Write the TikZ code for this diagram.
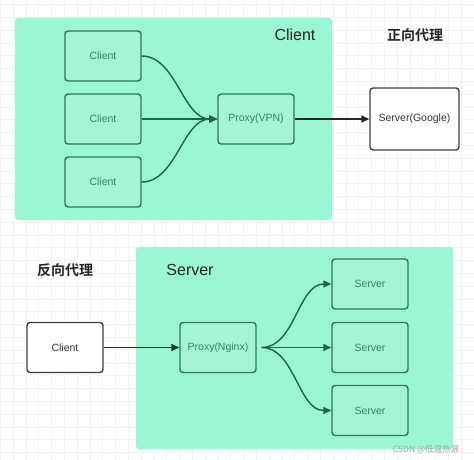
\documentclass[tikz,border=0pt]{standalone}
\usepackage{fontspec}
\setmainfont{Liberation Sans}
\newfontfamily\cjk{Noto Sans CJK SC}[BoldFont={Noto Sans CJK SC Bold}]
\usetikzlibrary{arrows.meta}
\definecolor{mint}{HTML}{9BF7D3}
\definecolor{boxfill}{HTML}{A3F5D6}
\definecolor{dkgreen}{HTML}{2B7A55}
\definecolor{txtgreen}{HTML}{2E8A5F}
\definecolor{arrgreen}{HTML}{1E6445}
\definecolor{gridc}{HTML}{F3F3F3}
\tikzset{
  x=1pt,y=-1pt,
  area/.style={fill=mint,draw=none,rounded corners=3pt},
  gbox/.style={draw=dkgreen,line width=1.4pt,fill=boxfill,rounded corners=3pt,minimum width=76pt,minimum height=50pt,inner sep=0pt,text=txtgreen,font=\fontsize{10.5}{12}\selectfont},
  wbox/.style={draw=black!75,line width=1.4pt,fill=white,rounded corners=3pt,minimum height=50pt,inner sep=0pt,text=black!80,font=\fontsize{10.5}{12}\selectfont},
  conn/.style={draw=arrgreen,line width=1.4pt,-{Triangle[length=8pt,width=7pt]}},
  kconn/.style={draw=black!85,line width=1.4pt,-{Triangle[length=8pt,width=7pt]}},
  title/.style={font=\fontsize{16}{18}\selectfont,text=black!85},
  ctitle/.style={font=\cjk\bfseries\fontsize{14}{16}\selectfont,text=black!85},
}
\begin{document}
\begin{tikzpicture}
\useasboundingbox (0,0) rectangle (474,460);
\fill[white] (0,0) rectangle (474,460);
\foreach \i in {0,...,37} {
  \draw[gridc,line width=0.5pt] (0.3+12.8*\i,0) -- (0.3+12.8*\i,460);
}
\foreach \j in {0,...,36} {
  \draw[gridc,line width=0.5pt] (0,4.5+12.8*\j) -- (474,4.5+12.8*\j);
}
% top area
\fill[area] (15,18) rectangle (332,220);
\node[title] (tc) at (295,35) {Client};
\node[ctitle] (tz) at (415,35) {正向代理};
\node[gbox] (c1) at (103,56) {Client};
\node[gbox] (c2) at (103,119) {Client};
\node[gbox] (c3) at (103,182) {Client};
\node[gbox] (pv) at (256,119) {Proxy(VPN)};
\node[wbox,minimum width=89pt,minimum height=62pt] (sg) at (414.5,119) {Server(Google)};
\draw[conn] (c1.east) to[out=0,in=180,looseness=0.9] (pv.west);
\draw[conn] (c2.east) -- (pv.west);
\draw[conn] (c3.east) to[out=0,in=180,looseness=0.9] (pv.west);
\draw[kconn] (pv.east) -- (sg.west);
% bottom area
\fill[area] (136,247) rectangle (453,449);
\node[ctitle] (bz) at (65,270) {反向代理};
\node[title] (ts) at (190,270) {Server};
\node[wbox,minimum width=76pt] (cl) at (65,347.5) {Client};
\node[gbox] (px) at (218,347.5) {Proxy(Nginx)};
\node[gbox] (s1) at (370,284) {Server};
\node[gbox] (s2) at (370,347.5) {Server};
\node[gbox] (s3) at (370,410.5) {Server};
\coordinate (pxo) at ([xshift=5pt]px.east);
\draw[kconn,draw=arrgreen!60!black] (cl.east) -- (px.west);
\draw[conn] (pxo) to[out=0,in=180,looseness=0.9] (s1.west);
\draw[conn] (pxo) -- (s2.west);
\draw[conn] (pxo) to[out=0,in=180,looseness=0.9] (s3.west);
\node[font=\cjk\fontsize{8.5}{9}\selectfont,text=black!35] (wm) at (426,450) {CSDN @低温热源};
\end{tikzpicture}
\end{document}
